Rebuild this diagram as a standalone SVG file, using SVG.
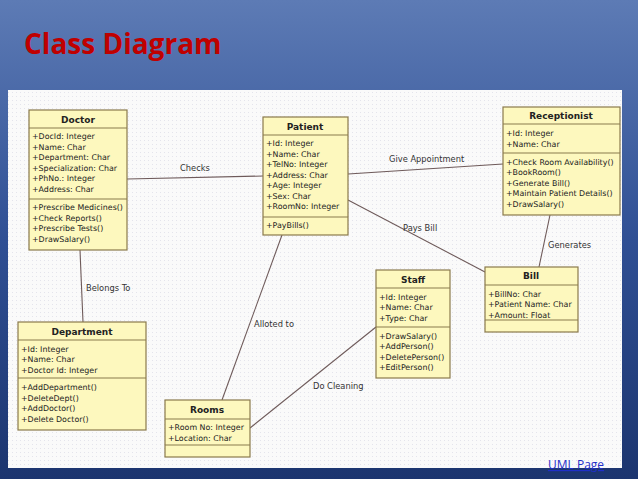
<svg xmlns="http://www.w3.org/2000/svg" width="638" height="479" viewBox="0 0 638 479">
<defs>
<linearGradient id="bg" x1="0" y1="0" x2="0" y2="1"><stop offset="0" stop-color="#5d7bb5"/><stop offset="0.5" stop-color="#2f4f94"/><stop offset="1" stop-color="#1c356f"/></linearGradient>
<pattern id="dots" width="4" height="4" patternUnits="userSpaceOnUse"><rect width="4" height="4" fill="#fafafa"/><rect width="1" height="1" fill="#e4e4ec"/></pattern>
</defs>
<style>
.box{fill:#fdf8be;stroke:#8a7a4c;stroke-width:1.2}
.sep{stroke:#8a7a4c;stroke-width:1.2}
.h{font-family:"DejaVu Sans",sans-serif;font-size:9px;font-weight:bold;fill:#222;text-anchor:middle}
.t{font-family:"DejaVu Sans",sans-serif;font-size:7.9px;fill:#222}
.l{font-family:"DejaVu Sans",sans-serif;font-size:8.3px;fill:#333}
.c line{stroke:#6e5a5a;stroke-width:1.1}
</style>
<rect width="638" height="479" fill="url(#bg)"/>
<rect x="8" y="90" width="614" height="378" fill="url(#dots)"/>
<text x="24" y="54" font-family="'Open Sans','DejaVu Sans',sans-serif" font-size="28" font-weight="bold" fill="#c00000">Class Diagram</text>
<g class="c" id="connectors">
<line x1="127" y1="179" x2="263" y2="176"/>
<line x1="348" y1="174" x2="503" y2="164"/>
<line x1="348" y1="200" x2="485" y2="272"/>
<line x1="550" y1="215" x2="539" y2="267"/>
<line x1="80" y1="250" x2="83" y2="322"/>
<line x1="282" y1="235" x2="222" y2="400"/>
<line x1="376" y1="327" x2="250" y2="428"/>
<text class="l" x="180" y="171">Checks</text>
<text class="l" x="389" y="162">Give Appointment</text>
<text class="l" x="403" y="231">Pays Bill</text>
<text class="l" x="548" y="248">Generates</text>
<text class="l" x="86" y="291">Belongs To</text>
<text class="l" x="254" y="327">Alloted to</text>
<text class="l" x="313" y="389">Do Cleaning</text>
</g>
<g id="doctor">
<rect class="box" x="29" y="110" width="98" height="140"/>
<line class="sep" x1="29" y1="128" x2="127" y2="128"/><line class="sep" x1="29" y1="199" x2="127" y2="199"/>
<text class="h" x="78" y="123">Doctor</text>
<text class="t" x="32"><tspan x="32" y="139">+DocId: Integer</tspan><tspan x="32" y="150">+Name: Char</tspan><tspan x="32" y="160">+Department: Char</tspan><tspan x="32" y="171">+Specialization: Char</tspan><tspan x="32" y="181">+PhNo.: Integer</tspan><tspan x="32" y="192">+Address: Char</tspan><tspan x="32" y="210">+Prescribe Medicines()</tspan><tspan x="32" y="221">+Check Reports()</tspan><tspan x="32" y="231">+Prescribe Tests()</tspan><tspan x="32" y="242">+DrawSalary()</tspan></text>
</g>
<g id="patient">
<rect class="box" x="263" y="117" width="85" height="118"/>
<line class="sep" x1="263" y1="135" x2="348" y2="135"/><line class="sep" x1="263" y1="217" x2="348" y2="217"/>
<text class="h" x="305" y="130">Patient</text>
<text class="t"><tspan x="266" y="146">+Id: Integer</tspan><tspan x="266" y="157">+Name: Char</tspan><tspan x="266" y="167">+TelNo: Integer</tspan><tspan x="266" y="178">+Address: Char</tspan><tspan x="266" y="188">+Age: Integer</tspan><tspan x="266" y="199">+Sex: Char</tspan><tspan x="266" y="209">+RoomNo: Integer</tspan><tspan x="266" y="228">+PayBills()</tspan></text>
</g>
<g id="receptionist">
<rect class="box" x="503" y="107" width="117" height="108"/>
<line class="sep" x1="503" y1="124" x2="620" y2="124"/><line class="sep" x1="503" y1="153" x2="620" y2="153"/>
<text class="h" x="561" y="119">Receptionist</text>
<text class="t"><tspan x="506" y="136">+Id: Integer</tspan><tspan x="506" y="147">+Name: Char</tspan><tspan x="506" y="165">+Check Room Availability()</tspan><tspan x="506" y="175">+BookRoom()</tspan><tspan x="506" y="186">+Generate Bill()</tspan><tspan x="506" y="196">+Maintain Patient Details()</tspan><tspan x="506" y="207">+DrawSalary()</tspan></text>
</g>
<g id="staff">
<rect class="box" x="376" y="270" width="74" height="108"/>
<line class="sep" x1="376" y1="288" x2="450" y2="288"/><line class="sep" x1="376" y1="327" x2="450" y2="327"/>
<text class="h" x="413" y="283">Staff</text>
<text class="t"><tspan x="379" y="300">+Id: Integer</tspan><tspan x="379" y="310">+Name: Char</tspan><tspan x="379" y="321">+Type: Char</tspan><tspan x="379" y="339">+DrawSalary()</tspan><tspan x="379" y="349">+AddPerson()</tspan><tspan x="379" y="360">+DeletePerson()</tspan><tspan x="379" y="370">+EditPerson()</tspan></text>
</g>
<g id="bill">
<rect class="box" x="485" y="267" width="93" height="65"/>
<line class="sep" x1="485" y1="285" x2="578" y2="285"/><line class="sep" x1="485" y1="320" x2="578" y2="320"/>
<text class="h" x="531" y="279">Bill</text>
<text class="t"><tspan x="488" y="297">+BillNo: Char</tspan><tspan x="488" y="307">+Patient Name: Char</tspan><tspan x="488" y="318">+Amount: Float</tspan></text>
</g>
<g id="department">
<rect class="box" x="18" y="322" width="128" height="108"/>
<line class="sep" x1="18" y1="340" x2="146" y2="340"/><line class="sep" x1="18" y1="378" x2="146" y2="378"/>
<text class="h" x="82" y="335">Department</text>
<text class="t"><tspan x="21" y="352">+Id: Integer</tspan><tspan x="21" y="362">+Name: Char</tspan><tspan x="21" y="373">+Doctor Id: Integer</tspan><tspan x="21" y="390">+AddDepartment()</tspan><tspan x="21" y="401">+DeleteDept()</tspan><tspan x="21" y="411">+AddDoctor()</tspan><tspan x="21" y="422">+Delete Doctor()</tspan></text>
</g>
<g id="rooms">
<rect class="box" x="165" y="400" width="85" height="57"/>
<line class="sep" x1="165" y1="419" x2="250" y2="419"/><line class="sep" x1="165" y1="445" x2="250" y2="445"/>
<text class="h" x="207" y="413">Rooms</text>
<text class="t"><tspan x="168" y="430">+Room No: Integer</tspan><tspan x="168" y="441">+Location: Char</tspan></text>
</g>
<text x="548" y="469" font-family="'Open Sans','DejaVu Sans',sans-serif" font-size="12" fill="#1f2fc8" text-decoration="underline">UML Page</text>
</svg>
